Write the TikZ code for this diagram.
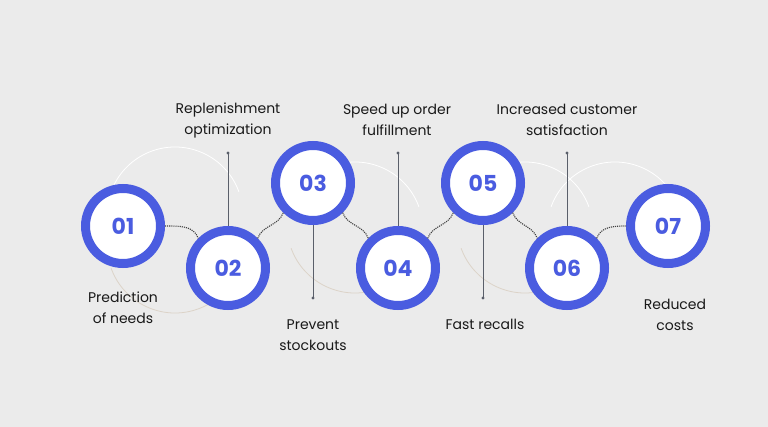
\documentclass[tikz,border=0pt]{standalone}
\usepackage{fontspec}
\setmainfont{Poppins}
\usetikzlibrary{calc}
\definecolor{bgGray}{HTML}{EBEBEB}
\definecolor{ringBlue}{HTML}{4A5CE0}
\definecolor{stemGray}{HTML}{5A5F6A}
\definecolor{arcTan}{HTML}{DCD3C8}
\tikzset{
  stepring/.style={circle,draw=ringBlue,line width=9pt,fill=white,minimum size=75pt,
    font=\fontsize{22}{22}\selectfont\bfseries,text=ringBlue},
  lbl/.style={align=center,font=\fontsize{14}{21}\selectfont,text=black!90},
  stem/.style={stemGray,line width=0.9pt},
  dotlink/.style={densely dotted,line width=1.1pt,black!75},
  ghost/.style={arcTan,line width=0.8pt}
}
\begin{document}
\begin{tikzpicture}[x=1pt,y=-1pt]
    \fill[bgGray] (0,0) rectangle (768,427);
    \useasboundingbox (0,0) rectangle (768,427);

    % faint arcs behind the rings
    \foreach \cx/\cy in {175/245,355/225,525/225} {
        \draw[ghost] ($(\cx,\cy)+(160:68)$) arc[start angle=160,end angle=20,radius=68];
    }
    \foreach \cx/\cy in {175/215,355/230,525/230,615/230} {
        \draw[white,line width=0.8pt] ($(\cx,\cy)+(200:68)$) arc[start angle=200,end angle=340,radius=68];
    }

    % rings
    \node[stepring] (c1) at (123,226) {01};
    \node[stepring] (c2) at (228,268) {02};
    \node[stepring] (c3) at (313,183) {03};
    \node[stepring] (c4) at (398,268) {04};
    \node[stepring] (c5) at (483,183) {05};
    \node[stepring] (c6) at (567,268) {06};
    \node[stepring] (c7) at (668,226) {07};

    % stems
    \foreach \c in {2,4,6} {
        \coordinate (t\c) at ($(c\c.north)+(0,-73)$);
        \draw[stem] (c\c.north) -- (t\c);
        \fill[stemGray] (t\c) circle (1.7);
    }
    \foreach \c in {3,5} {
        \coordinate (b\c) at ($(c\c.south)+(0,73)$);
        \draw[stem] (c\c.south) -- (b\c);
        \fill[stemGray] (b\c) circle (1.7);
    }

    % dotted links
    \draw[dotlink] (c1.east) to[out=0,in=110] (c2.north west);
    \draw[dotlink] (c2.north east) to[out=70,in=250] (c3.south west);
    \draw[dotlink] (c3.south east) to[out=290,in=110] (c4.north west);
    \draw[dotlink] (c4.north east) to[out=70,in=250] (c5.south west);
    \draw[dotlink] (c5.south east) to[out=290,in=110] (c6.north west);
    \draw[dotlink] (c6.north east) to[out=70,in=180] (c7.west);

    % labels
    \node[lbl] (l1) at (123,308) {Prediction\\of needs};
    \node[lbl] (l2) at (228,120) {Replenishment\\optimization};
    \node[lbl] (l3) at (313,335) {Prevent\\stockouts};
    \node[lbl] (l4) at (397,120) {Speed up order\\fulfillment};
    \node[lbl] (l5) at (485,324) {Fast recalls};
    \node[lbl] (l6) at (567,120) {Increased customer\\satisfaction};
    \node[lbl] (l7) at (675,315) {Reduced\\costs};
\end{tikzpicture}
\end{document}
